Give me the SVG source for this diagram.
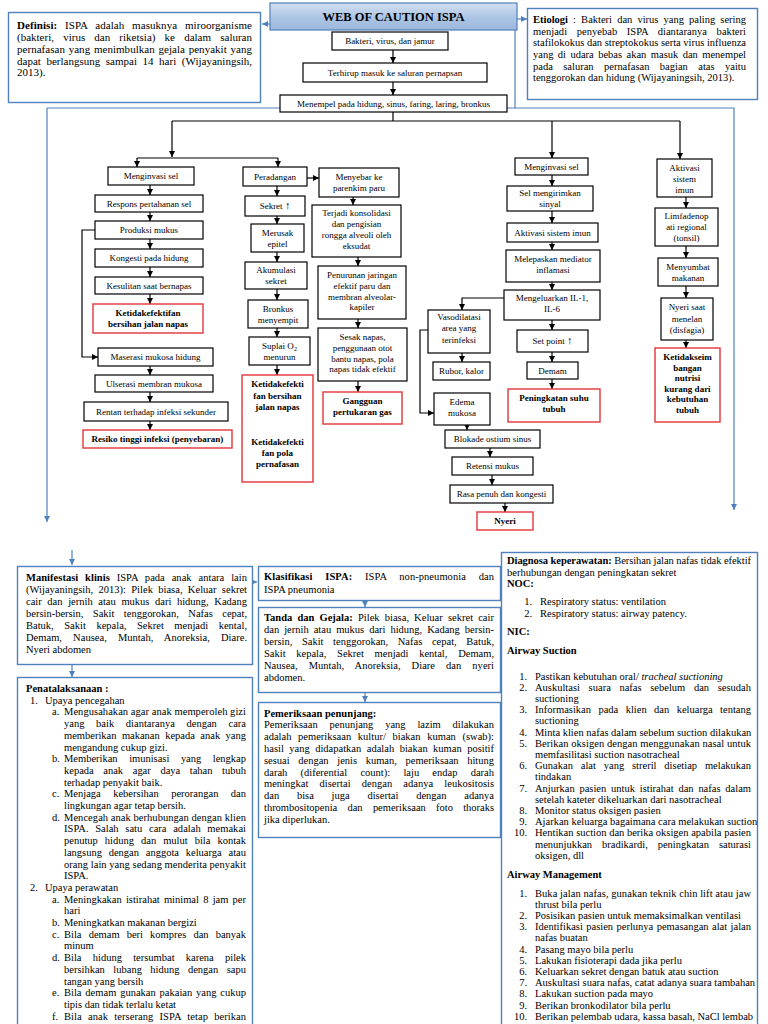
<svg xmlns="http://www.w3.org/2000/svg" width="768" height="1024" viewBox="0 0 768 1024">
<defs>
<linearGradient id="tg" x1="0" y1="0" x2="0" y2="1">
<stop offset="0" stop-color="#d3e0f1"/>
<stop offset="0.55" stop-color="#abc4e4"/>
<stop offset="1" stop-color="#9db8de"/>
</linearGradient>
<marker id="ak" viewBox="0 0 8 8" refX="8" refY="4" markerWidth="6" markerHeight="6" orient="auto" markerUnits="userSpaceOnUse"><path d="M0,0 L8,4 L0,8 z" fill="#000"/></marker>
<marker id="ab" viewBox="0 0 8 8" refX="8" refY="4" markerWidth="6" markerHeight="6" orient="auto" markerUnits="userSpaceOnUse"><path d="M0,0 L8,4 L0,8 z" fill="#4f81bd"/></marker>
</defs>
<style>
.fb{fill:#fff;stroke:#000;stroke-width:1.2}
.rb{fill:#fff;stroke:#e3343a;stroke-width:1.4}
.bb{fill:#fff;stroke:#4f81bd;stroke-width:1.4}
text{font-family:"Liberation Serif","Times New Roman",serif;fill:#000}
.f{font-size:9px;text-anchor:middle}
.r{font-size:9px;text-anchor:middle;font-weight:bold}
.d{font-size:11px}
.t{font-size:10.5px}
.n{font-size:10.5px;text-anchor:end}
.b{font-weight:bold}
.i{font-style:italic}
.up{font-weight:bold;font-size:11px}
.k{fill:none;stroke:#000;stroke-width:1.2;marker-end:url(#ak)}
.kn{fill:none;stroke:#000;stroke-width:1.2}
.bl{fill:none;stroke:#4f81bd;stroke-width:1.2;marker-end:url(#ab)}
.bn{fill:none;stroke:#4f81bd;stroke-width:1.2}
</style>
<rect width="768" height="1024" fill="#fff"/>

<g id="connectors">
<path class="bl" d="M270,24 H262"/>
<path class="bl" d="M517,19 H527"/>
<path class="bn" d="M515,30 V108 H47"/>
<path class="bl" d="M47,108 V522"/>
<path class="bl" d="M515,108 H734 V510"/>
<path class="k" d="M393,50 V63"/>
<path class="k" d="M393,82 V95"/>
<path class="kn" d="M393,112 V121 M172,121 H680"/>
<path class="k" d="M172,121 V157"/>
<path class="k" d="M552,121 V158"/>
<path class="k" d="M680,121 V159"/>
<path class="kn" d="M137,158 H278"/>
<path class="k" d="M137,158 V167"/>
<path class="k" d="M278,158 V167"/>
<path class="k" d="M150,185 V195"/>
<path class="k" d="M150,212 V221"/>
<path class="k" d="M150,239 V249"/>
<path class="k" d="M150,267 V277"/>
<path class="k" d="M150,294 V304"/>
<path class="k" d="M95,230 H82 V357 H98"/>
<path class="k" d="M150,366 V375"/>
<path class="k" d="M150,392 V402"/>
<path class="k" d="M150,421 V430"/>
<path class="k" d="M277,186 V196"/>
<path class="k" d="M277,216 V224"/>
<path class="k" d="M277,252 V262"/>
<path class="k" d="M277,289 V300"/>
<path class="k" d="M277,328 V337"/>
<path class="k" d="M277,365 V375"/>
<path class="k" d="M307,178 H319"/>
<path class="k" d="M353,197 V205"/>
<path class="k" d="M358,257 V266"/>
<path class="k" d="M358,319 V328"/>
<path class="k" d="M358,381 V392"/>
<path class="k" d="M552,175 V186"/>
<path class="k" d="M552,211 V223"/>
<path class="k" d="M552,242 V250"/>
<path class="k" d="M552,282 V290"/>
<path class="k" d="M552,320 V330"/>
<path class="k" d="M552,352 V362"/>
<path class="k" d="M552,379 V389"/>
<path class="k" d="M504,298 H462 V310"/>
<path class="k" d="M462,353 V362"/>
<path class="k" d="M428,330 H420 V413 H434"/>
<path class="k" d="M467,425 V430"/>
<path class="k" d="M490,448 V457"/>
<path class="k" d="M492,475 V485"/>
<path class="k" d="M505,503 V512"/>
<path class="k" d="M686,197 V208"/>
<path class="k" d="M686,246 V258"/>
<path class="k" d="M686,286 V298"/>
<path class="k" d="M686,340 V348"/>
<path class="bl" d="M72,550 V565"/>
<path class="bl" d="M72,664 V677"/>
<path class="bl" d="M252,582 H257"/>
<path class="bl" d="M365,601 V607"/>
<path class="bl" d="M365,693 V702"/>
</g>

<g id="definisi">
<rect class="bb" x="8.5" y="12.5" width="252" height="90"/>
<text class="d" x="17" y="29" textLength="235" lengthAdjust="spacing" style="word-spacing:5px"><tspan class="b">Definisi:</tspan> ISPA adalah masuknya miroorganisme</text>
<text class="d" x="17" y="41" textLength="235" lengthAdjust="spacing" style="word-spacing:6.4px">(bakteri, virus dan riketsia) ke dalam saluran</text>
<text class="d" x="17" y="53" textLength="235" lengthAdjust="spacing" style="word-spacing:1px">pernafasan yang menimbulkan gejala penyakit yang</text>
<text class="d" x="17" y="64.5" textLength="235" lengthAdjust="spacing" style="word-spacing:2.8px">dapat berlangsung sampai 14 hari (Wijayaningsih,</text>
<text class="d" x="17" y="76">2013).</text>
</g>

<g id="title">
<rect x="270" y="3" width="247" height="27" fill="url(#tg)" stroke="#4f81bd" stroke-width="1.2"/>
<text x="393.5" y="21" text-anchor="middle" font-size="12.5" font-weight="bold">WEB OF CAUTION ISPA</text>
</g>

<g id="etiologi">
<rect class="bb" x="527.5" y="8.5" width="230" height="91"/>
<text class="t" x="533" y="22.5" textLength="213" lengthAdjust="spacing" style="word-spacing:2.5px"><tspan class="b">Etiologi</tspan> : Bakteri dan virus yang paling sering</text>
<text class="t" x="533" y="34.5" textLength="213" lengthAdjust="spacing" style="word-spacing:6.9px">menjadi penyebab ISPA diantaranya bakteri</text>
<text class="t" x="533" y="45.5" textLength="213" lengthAdjust="spacing">stafilokokus dan streptokokus serta virus influenza</text>
<text class="t" x="533" y="57.5" textLength="213" lengthAdjust="spacing" style="word-spacing:1.8px">yang di udara bebas akan masuk dan menempel</text>
<text class="t" x="533" y="69.5" textLength="213" lengthAdjust="spacing" style="word-spacing:7.8px">pada saluran pernafasan bagian atas yaitu</text>
<text class="t" x="533" y="80.5">tenggorokan dan hidung (Wijayaningsih, 2013).</text>
</g>

<g id="n-bakteri"><rect class="fb" x="332" y="32" width="116" height="18"/><text class="f" x="390" y="44">Bakteri, virus, dan jamur</text></g>
<g id="n-terhirup"><rect class="fb" x="303" y="63" width="184" height="19"/><text class="f" x="395" y="75.5">Terhirup masuk ke saluran pernapsan</text></g>
<g id="n-menempel"><rect class="fb" x="280" y="95" width="227" height="17"/><text class="f" x="393.5" y="106.5">Menempel pada hidung, sinus, faring, laring, bronkus</text></g>

<g id="n-menginvasi1"><rect class="fb" x="108" y="167" width="86" height="18"/><text class="f" x="151" y="179">Menginvasi sel</text></g>
<g id="n-respons"><rect class="fb" x="95" y="195" width="108" height="17"/><text class="f" x="149" y="206.5">Respons pertahanan sel</text></g>
<g id="n-produksi"><rect class="fb" x="95" y="221" width="108" height="18"/><text class="f" x="149" y="233">Produksi mukus</text></g>
<g id="n-kongesti"><rect class="fb" x="95" y="249" width="108" height="18"/><text class="f" x="149" y="261">Kongesti pada hidung</text></g>
<g id="n-kesulitan"><rect class="fb" x="95" y="277" width="108" height="17"/><text class="f" x="149" y="288.5">Kesulitan saat bernapas</text></g>
<g id="n-dx1"><rect class="rb" x="93" y="304" width="110" height="29"/><text class="r" x="148" y="315.5">Ketidakefektifan</text><text class="r" x="148" y="326.5">bersihan jalan napas</text></g>
<g id="n-maserasi"><rect class="fb" x="98" y="348" width="115" height="18"/><text class="f" x="155.5" y="360">Maserasi mukosa hidung</text></g>
<g id="n-ulserasi"><rect class="fb" x="95" y="375" width="118" height="17"/><text class="f" x="154" y="386.5">Ulserasi membran mukosa</text></g>
<g id="n-rentan"><rect class="fb" x="84" y="402" width="144" height="19"/><text class="f" x="156" y="414.5">Rentan terhadap infeksi sekunder</text></g>
<g id="n-dx2"><rect class="rb" x="83" y="430" width="149" height="18"/><text class="r" x="157.5" y="442">Resiko tinggi infeksi (penyebaran)</text></g>

<g id="n-peradangan"><rect class="fb" x="243" y="167" width="64" height="19"/><text class="f" x="275" y="179.5">Peradangan</text></g>
<g id="n-sekret"><rect class="fb" x="245" y="196" width="60" height="20"/><text class="f" x="275" y="209">Sekret <tspan class="up">↑</tspan></text></g>
<g id="n-merusak"><rect class="fb" x="251" y="224" width="53" height="28"/><text class="f" x="277.5" y="235.5">Merusak</text><text class="f" x="277.5" y="246.5">epitel</text></g>
<g id="n-akumulasi"><rect class="fb" x="245" y="262" width="62" height="27"/><text class="f" x="276" y="273">Akumulasi</text><text class="f" x="276" y="284">sekret</text></g>
<g id="n-bronkus"><rect class="fb" x="248" y="300" width="60" height="28"/><text class="f" x="278" y="311.5">Bronkus</text><text class="f" x="278" y="322.5">menyempit</text></g>
<g id="n-suplai"><rect class="fb" x="249" y="337" width="61" height="28"/><text class="f" x="279.5" y="348.5">Suplai O<tspan font-size="6" dy="2">2</tspan></text><text class="f" x="279.5" y="359.5">menurun</text></g>
<g id="n-dx3"><rect class="rb" x="242" y="375" width="71" height="107"/>
<text class="r" x="277.5" y="387">Ketidakefekti</text><text class="r" x="277.5" y="398.5">fan bersihan</text><text class="r" x="277.5" y="410">jalan napas</text>
<text class="r" x="277.5" y="445">Ketidakefekti</text><text class="r" x="277.5" y="456">fan pola</text><text class="r" x="277.5" y="467">pernafasan</text></g>

<g id="n-menyebar"><rect class="fb" x="319" y="168" width="80" height="29"/><text class="f" x="359" y="180">Menyebar ke</text><text class="f" x="359" y="191">parenkim paru</text></g>
<g id="n-konsolidasi"><rect class="fb" x="312" y="205" width="89" height="52"/><text class="f" x="356.5" y="216">Terjadi konsolidasi</text><text class="f" x="356.5" y="227">dan pengisian</text><text class="f" x="356.5" y="238">rongga alveoli oleh</text><text class="f" x="356.5" y="248.5">eksudat</text></g>
<g id="n-penurunan"><rect class="fb" x="318" y="266" width="88" height="53"/><text class="f" x="362" y="278">Penurunan jaringan</text><text class="f" x="362" y="289">efektif paru dan</text><text class="f" x="362" y="299.5">membran alveolar-</text><text class="f" x="362" y="310">kapiler</text></g>
<g id="n-sesak"><rect class="fb" x="318" y="328" width="89" height="53"/><text class="f" x="362.5" y="340">Sesak napas,</text><text class="f" x="362.5" y="351">penggunaan otot</text><text class="f" x="362.5" y="361.5">bantu napas, pola</text><text class="f" x="362.5" y="372">napas tidak efektif</text></g>
<g id="n-dx4"><rect class="rb" x="323" y="392" width="79" height="32"/><text class="r" x="362.5" y="404">Gangguan</text><text class="r" x="362.5" y="415">pertukaran gas</text></g>

<g id="n-menginvasi2"><rect class="fb" x="515" y="158" width="73" height="17"/><text class="f" x="551.5" y="169.5">Menginvasi sel</text></g>
<g id="n-sinyal"><rect class="fb" x="507" y="186" width="86" height="25"/><text class="f" x="550" y="196">Sel mengirimkan</text><text class="f" x="550" y="207">sinyal</text></g>
<g id="n-aktivasi1"><rect class="fb" x="507" y="223" width="91" height="19"/><text class="f" x="552.5" y="235.5">Aktivasi sistem imun</text></g>
<g id="n-mediator"><rect class="fb" x="506" y="250" width="94" height="32"/><text class="f" x="553" y="262">Melepaskan mediator</text><text class="f" x="553" y="273">inflamasi</text></g>
<g id="n-il"><rect class="fb" x="504" y="290" width="96" height="30"/><text class="f" x="552" y="301">Mengeluarkan IL-1,</text><text class="f" x="552" y="312">IL-6</text></g>
<g id="n-setpoint"><rect class="fb" x="517" y="330" width="71" height="22"/><text class="f" x="552.5" y="344">Set point <tspan class="up">↑</tspan></text></g>
<g id="n-demam"><rect class="fb" x="527" y="362" width="51" height="17"/><text class="f" x="552.5" y="373.5">Demam</text></g>
<g id="n-dx5"><rect class="rb" x="508" y="389" width="92" height="33"/><text class="r" x="554" y="401">Peningkatan suhu</text><text class="r" x="554" y="412">tubuh</text></g>

<g id="n-vasodilatasi"><rect class="fb" x="428" y="310" width="62" height="43"/><text class="f" x="459" y="320">Vasodilatasi</text><text class="f" x="459" y="331">area yang</text><text class="f" x="459" y="342.5">terinfeksi</text></g>
<g id="n-rubor"><rect class="fb" x="433" y="362" width="57" height="18"/><text class="f" x="461.5" y="374">Rubor, kalor</text></g>
<g id="n-edema"><rect class="fb" x="434" y="393" width="56" height="32"/><text class="f" x="462" y="405">Edema</text><text class="f" x="462" y="415.5">mukosa</text></g>
<g id="n-blokade"><rect class="fb" x="445" y="430" width="95" height="18"/><text class="f" x="492.5" y="442">Blokade ostium sinus</text></g>
<g id="n-retensi"><rect class="fb" x="452" y="457" width="81" height="18"/><text class="f" x="492.5" y="469">Retensi mukus</text></g>
<g id="n-rasa"><rect class="fb" x="450" y="485" width="103" height="18"/><text class="f" x="501.5" y="497">Rasa penuh dan kongesti</text></g>
<g id="n-dx6"><rect class="rb" x="477" y="512" width="56" height="18"/><text class="r" x="505" y="524">Nyeri</text></g>

<g id="n-aktivasi2"><rect class="fb" x="657" y="159" width="55" height="38"/><text class="f" x="684.5" y="171">Aktivasi</text><text class="f" x="684.5" y="182">sistem</text><text class="f" x="684.5" y="192.5">imun</text></g>
<g id="n-limfa"><rect class="fb" x="655" y="208" width="63" height="38"/><text class="f" x="686.5" y="218.5">Limfadenop</text><text class="f" x="686.5" y="230">ati regional</text><text class="f" x="686.5" y="240.5">(tonsil)</text></g>
<g id="n-menyumbat"><rect class="fb" x="658" y="258" width="60" height="28"/><text class="f" x="688" y="269.5">Menyumbat</text><text class="f" x="688" y="280.5">makanan</text></g>
<g id="n-menelan"><rect class="fb" x="661" y="298" width="52" height="42"/><text class="f" x="687" y="310">Nyeri saat</text><text class="f" x="687" y="321.5">menelan</text><text class="f" x="687" y="333">(disfagia)</text></g>
<g id="n-dx7"><rect class="rb" x="655" y="348" width="65" height="74"/>
<text class="r" x="687.5" y="360">Ketidakseim</text><text class="r" x="687.5" y="370.5">bangan</text><text class="r" x="687.5" y="381">nutrisi</text><text class="r" x="687.5" y="391.5">kurang dari</text><text class="r" x="687.5" y="402">kebutuhan</text><text class="r" x="687.5" y="412.5">tubuh</text></g>

<g id="manifestasi">
<rect class="bb" x="17.5" y="566.5" width="235" height="98"/>
<text class="t" x="26" y="581" textLength="221" lengthAdjust="spacing" style="word-spacing:4.2px"><tspan class="b">Manifestasi klinis</tspan> ISPA pada anak antara lain</text>
<text class="t" x="26" y="593" textLength="221" lengthAdjust="spacing" style="word-spacing:2.7px">(Wijayaningsih, 2013): Pilek biasa, Keluar sekret</text>
<text class="t" x="26" y="605" textLength="221" lengthAdjust="spacing" style="word-spacing:3px">cair dan jernih atau mukus dari hidung, Kadang</text>
<text class="t" x="26" y="617" textLength="221" lengthAdjust="spacing" style="word-spacing:6.8px">bersin-bersin, Sakit tenggorokan, Nafas cepat,</text>
<text class="t" x="26" y="629" textLength="221" lengthAdjust="spacing" style="word-spacing:7.9px">Batuk, Sakit kepala, Sekret menjadi kental,</text>
<text class="t" x="26" y="641" textLength="221" lengthAdjust="spacing" style="word-spacing:8.5px">Demam, Nausea, Muntah, Anoreksia, Diare.</text>
<text class="t" x="26" y="653">Nyeri abdomen</text>
</g>

<g id="penatalaksanaan">
<rect class="bb" x="17.5" y="677.5" width="235" height="360"/>
<text class="t b" x="26" y="692">Penatalaksanaan :</text>
<text class="t" x="30" y="703.7">1.</text><text class="t" x="45" y="703.7">Upaya pencegahan</text>
<text class="t" x="52" y="715.4">a.</text><text class="t" x="64" y="715.4" textLength="182" lengthAdjust="spacing">Mengusahakan agar anak memperoleh gizi</text>
<text class="t" x="64" y="727.1" textLength="182" lengthAdjust="spacing" style="word-spacing:9px">yang baik diantaranya dengan cara</text>
<text class="t" x="64" y="738.8" textLength="182" lengthAdjust="spacing" style="word-spacing:2.8px">memberikan makanan kepada anak yang</text>
<text class="t" x="64" y="750.5">mengandung cukup gizi.</text>
<text class="t" x="52" y="762.2">b.</text><text class="t" x="64" y="762.2" textLength="182" lengthAdjust="spacing" style="word-spacing:8.9px">Memberikan imunisasi yang lengkap</text>
<text class="t" x="64" y="773.9" textLength="182" lengthAdjust="spacing" style="word-spacing:7px">kepada anak agar daya tahan tubuh</text>
<text class="t" x="64" y="785.6">terhadap penyakit baik.</text>
<text class="t" x="52" y="797.3">c.</text><text class="t" x="64" y="797.3" textLength="182" lengthAdjust="spacing" style="word-spacing:9.8px">Menjaga kebersihan perorangan dan</text>
<text class="t" x="64" y="809">lingkungan agar tetap bersih.</text>
<text class="t" x="52" y="820.7">d.</text><text class="t" x="64" y="820.7" textLength="182" lengthAdjust="spacing">Mencegah anak berhubungan dengan klien</text>
<text class="t" x="64" y="832.4" textLength="182" lengthAdjust="spacing" style="word-spacing:4px">ISPA. Salah satu cara adalah memakai</text>
<text class="t" x="64" y="844.1" textLength="182" lengthAdjust="spacing" style="word-spacing:4.4px">penutup hidung dan mulut bila kontak</text>
<text class="t" x="64" y="855.8" textLength="182" lengthAdjust="spacing" style="word-spacing:4.1px">langsung dengan anggota keluarga atau</text>
<text class="t" x="64" y="867.5" textLength="182" lengthAdjust="spacing">orang lain yang sedang menderita penyakit</text>
<text class="t" x="64" y="879.2">ISPA.</text>
<text class="t" x="30" y="890.9">2.</text><text class="t" x="45" y="890.9">Upaya perawatan</text>
<text class="t" x="52" y="902.6">a.</text><text class="t" x="64" y="902.6" textLength="182" lengthAdjust="spacing" style="word-spacing:1.6px">Meningkakan istirahat minimal 8 jam per</text>
<text class="t" x="64" y="914.3">hari</text>
<text class="t" x="52" y="926">b.</text><text class="t" x="64" y="926">Meningkatkan makanan bergizi</text>
<text class="t" x="52" y="937.7">c.</text><text class="t" x="64" y="937.7" textLength="182" lengthAdjust="spacing" style="word-spacing:4.5px">Bila demam beri kompres dan banyak</text>
<text class="t" x="64" y="949.4">minum</text>
<text class="t" x="52" y="961.1">d.</text><text class="t" x="64" y="961.1" textLength="182" lengthAdjust="spacing" style="word-spacing:8.6px">Bila hidung tersumbat karena pilek</text>
<text class="t" x="64" y="972.8" textLength="182" lengthAdjust="spacing" style="word-spacing:5.8px">bersihkan lubang hidung dengan sapu</text>
<text class="t" x="64" y="984.5">tangan yang bersih</text>
<text class="t" x="52" y="996.2">e.</text><text class="t" x="64" y="996.2" textLength="182" lengthAdjust="spacing" style="word-spacing:1.2px">Bila demam gunakan pakaian yang cukup</text>
<text class="t" x="64" y="1007.9">tipis dan tidak terlalu ketat</text>
<text class="t" x="52" y="1019.6">f.</text><text class="t" x="64" y="1019.6" textLength="182" lengthAdjust="spacing" style="word-spacing:3.7px">Bila anak terserang ISPA tetap berikan</text>
</g>

<g id="klasifikasi">
<rect class="bb" x="258.5" y="566.5" width="242" height="34"/>
<text class="t" x="264" y="580" textLength="230" lengthAdjust="spacing" style="word-spacing:10.1px"><tspan class="b">Klasifikasi ISPA:</tspan> ISPA non-pneumonia dan</text>
<text class="t" x="264" y="593">ISPA pneumonia</text>
</g>

<g id="tanda">
<rect class="bb" x="258.5" y="607.5" width="242" height="85"/>
<text class="t" x="264" y="621" textLength="230" lengthAdjust="spacing" style="word-spacing:2.4px"><tspan class="b">Tanda dan Gejala:</tspan> Pilek biasa, Keluar sekret cair</text>
<text class="t" x="264" y="633" textLength="230" lengthAdjust="spacing" style="word-spacing:2.4px">dan jernih atau mukus dari hidung, Kadang bersin-</text>
<text class="t" x="264" y="645" textLength="230" lengthAdjust="spacing" style="word-spacing:7px">bersin, Sakit tenggorokan, Nafas cepat, Batuk,</text>
<text class="t" x="264" y="657" textLength="230" lengthAdjust="spacing" style="word-spacing:8.1px">Sakit kepala, Sekret menjadi kental, Demam,</text>
<text class="t" x="264" y="669" textLength="230" lengthAdjust="spacing" style="word-spacing:8.4px">Nausea, Muntah, Anoreksia, Diare dan nyeri</text>
<text class="t" x="264" y="681">abdomen.</text>
</g>

<g id="pemeriksaan">
<rect class="bb" x="258.5" y="702.5" width="242" height="135"/>
<text class="t b" x="264" y="716.5">Pemeriksaan penunjang:</text>
<text class="t" x="264" y="728.3" textLength="230" lengthAdjust="spacing" style="word-spacing:9.2px">Pemeriksaan penunjang yang lazim dilakukan</text>
<text class="t" x="264" y="740.1" textLength="230" lengthAdjust="spacing" style="word-spacing:4.1px">adalah pemeriksaan kultur/ biakan kuman (swab):</text>
<text class="t" x="264" y="751.9" textLength="230" lengthAdjust="spacing" style="word-spacing:2.8px">hasil yang didapatkan adalah biakan kuman positif</text>
<text class="t" x="264" y="763.7" textLength="230" lengthAdjust="spacing" style="word-spacing:6px">sesuai dengan jenis kuman, pemeriksaan hitung</text>
<text class="t" x="264" y="775.5" textLength="230" lengthAdjust="spacing" style="word-spacing:10.6px">darah (diferential count): laju endap darah</text>
<text class="t" x="264" y="787.3" textLength="230" lengthAdjust="spacing" style="word-spacing:8.6px">meningkat disertai dengan adanya leukositosis</text>
<text class="t" x="264" y="799.1" textLength="230" lengthAdjust="spacing" style="word-spacing:15.1px">dan bisa juga disertai dengan adanya</text>
<text class="t" x="264" y="810.9" textLength="230" lengthAdjust="spacing" style="word-spacing:7.7px">thrombositopenia dan pemeriksaan foto thoraks</text>
<text class="t" x="264" y="822.7">jika diperlukan.</text>
</g>

<g id="diagnosa">
<rect class="bb" x="501.5" y="552.5" width="256" height="480"/>
<text class="t" x="507" y="564" textLength="244" lengthAdjust="spacing"><tspan class="b">Diagnosa keperawatan:</tspan> Bersihan jalan nafas tidak efektif</text>
<text class="t" x="507" y="575.5">berhubungan dengan peningkatan sekret</text>
<text class="t b" x="507" y="586.5">NOC:</text>
<text class="n" x="532" y="605">1.</text><text class="t" x="540" y="605">Respiratory status: ventilation</text>
<text class="n" x="532" y="616.5">2.</text><text class="t" x="540" y="616.5">Respiratory status: airway patency.</text>
<text class="t b" x="507" y="635">NIC:</text>
<text class="t b" x="507" y="654">Airway Suction</text>
<text class="n" x="527" y="679.5">1.</text><text class="t" x="535" y="679.5">Pastikan kebutuhan oral/ <tspan class="i">tracheal suctioning</tspan></text>
<text class="n" x="527" y="690.7">2.</text><text class="t" x="535" y="690.7" textLength="216" lengthAdjust="spacing" style="word-spacing:6px">Auskultasi suara nafas sebelum dan sesudah</text>
<text class="t" x="535" y="701.9">suctioning</text>
<text class="n" x="527" y="713.1">3.</text><text class="t" x="535" y="713.1" textLength="216" lengthAdjust="spacing" style="word-spacing:4.8px">Informasikan pada klien dan keluarga tentang</text>
<text class="t" x="535" y="724.3">suctioning</text>
<text class="n" x="527" y="735.5">4.</text><text class="t" x="535" y="735.5">Minta klien nafas dalam sebelum suction dilakukan</text>
<text class="n" x="527" y="746.7">5.</text><text class="t" x="535" y="746.7" textLength="216" lengthAdjust="spacing">Berikan oksigen dengan menggunakan nasal untuk</text>
<text class="t" x="535" y="757.9">memfasilitasi suction nasotracheal</text>
<text class="n" x="527" y="769.1">6.</text><text class="t" x="535" y="769.1" textLength="216" lengthAdjust="spacing" style="word-spacing:5.2px">Gunakan alat yang streril disetiap melakukan</text>
<text class="t" x="535" y="780.3">tindakan</text>
<text class="n" x="527" y="791.5">7.</text><text class="t" x="535" y="791.5" textLength="216" lengthAdjust="spacing" style="word-spacing:2.2px">Anjurkan pasien untuk istirahat dan nafas dalam</text>
<text class="t" x="535" y="802.7">setelah kateter dikeluarkan dari nasotracheal</text>
<text class="n" x="527" y="813.9">8.</text><text class="t" x="535" y="813.9">Monitor status oksigen pasien</text>
<text class="n" x="527" y="825.1">9.</text><text class="t" x="535" y="825.1">Ajarkan keluarga bagaimana cara melakukan suction</text>
<text class="n" x="527" y="836.3">10.</text><text class="t" x="535" y="836.3" textLength="216" lengthAdjust="spacing">Hentikan suction dan berika oksigen apabila pasien</text>
<text class="t" x="535" y="847.5" textLength="216" lengthAdjust="spacing" style="word-spacing:7.3px">menunjukkan bradikardi, peningkatan saturasi</text>
<text class="t" x="535" y="858.7">oksigen, dll</text>
<text class="t b" x="507" y="878">Airway Management</text>
<text class="n" x="527" y="896.5">1.</text><text class="t" x="535" y="896.5" textLength="216" lengthAdjust="spacing">Buka jalan nafas, gunakan teknik chin lift atau jaw</text>
<text class="t" x="535" y="907.7">thrust bila perlu</text>
<text class="n" x="527" y="918.9">2.</text><text class="t" x="535" y="918.9">Posisikan pasien untuk memaksimalkan ventilasi</text>
<text class="n" x="527" y="930.1">3.</text><text class="t" x="535" y="930.1" textLength="216" lengthAdjust="spacing" style="word-spacing:0.8px">Identifikasi pasien perlunya pemasangan alat jalan</text>
<text class="t" x="535" y="941.3">nafas buatan</text>
<text class="n" x="527" y="952.5">4.</text><text class="t" x="535" y="952.5">Pasang mayo bila perlu</text>
<text class="n" x="527" y="963.7">5.</text><text class="t" x="535" y="963.7">Lakukan fisioterapi dada jika perlu</text>
<text class="n" x="527" y="974.9">6.</text><text class="t" x="535" y="974.9">Keluarkan sekret dengan batuk atau suction</text>
<text class="n" x="527" y="986.1">7.</text><text class="t" x="535" y="986.1">Auskultasi suara nafas, catat adanya suara tambahan</text>
<text class="n" x="527" y="997.3">8.</text><text class="t" x="535" y="997.3">Lakukan suction pada mayo</text>
<text class="n" x="527" y="1008.5">9.</text><text class="t" x="535" y="1008.5">Berikan bronkodilator bila perlu</text>
<text class="n" x="527" y="1019.7">10.</text><text class="t" x="535" y="1019.7">Berikan pelembab udara, kassa basah, NaCl lembab</text>
</g>
</svg>
